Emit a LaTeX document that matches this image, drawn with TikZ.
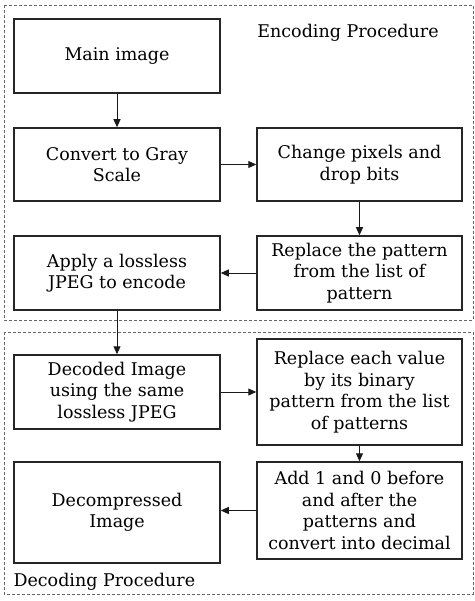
\documentclass[tikz,border=0pt]{standalone}
\usepackage{fontspec}
\setmainfont{DejaVu Serif}
\usetikzlibrary{arrows.meta}
\begin{document}
\begin{tikzpicture}[x=1pt,y=-1pt,
  every node/.style={font=\fontsize{17.5}{21.5}\selectfont, text=black},
  stepbox/.style={draw=black!85, line width=1.5pt, inner sep=0pt, align=center},
  frame/.style={draw=black!60, line width=0.8pt, dash pattern=on 3pt off 2pt},
  conn/.style={draw=black!90, line width=1pt, -{Triangle[length=8pt,width=7pt]}}]
\useasboundingbox (0,0) rectangle (474,601);
\draw[frame] (4,5) rectangle (473,320);
\draw[frame] (4,332) rectangle (473,594);
\node (enc) at (348,33) {Encoding Procedure};
\node[anchor=west] (decl) at (10,582) {Decoding Procedure};
\node[stepbox, minimum width=206pt, minimum height=74pt] (main) at (117,56) {Main image};
\node[stepbox, minimum width=206pt, minimum height=73pt] (gray) at (117,164.5) {Convert to Gray\\Scale};
\node[stepbox, minimum width=205pt, minimum height=73pt] (chg) at (359.5,164.5) {Change pixels and\\drop bits};
\node[stepbox, minimum width=205pt, minimum height=74pt] (rep) at (359.5,273) {Replace the pattern\\from the list of\\pattern};
\node[stepbox, minimum width=206pt, minimum height=74pt] (app) at (117,273) {Apply a lossless\\JPEG to encode};
\node[stepbox, minimum width=206pt, minimum height=74pt] (dcd) at (117,392) {Decoded Image\\using the same\\lossless JPEG};
\node[stepbox, minimum width=205pt, minimum height=106pt] (rev) at (359.5,392) {Replace each value\\by its binary\\pattern from the list\\of patterns};
\node[stepbox, minimum width=205pt, minimum height=97pt] (add) at (359.5,510.5) {Add 1 and 0 before\\and after the\\patterns and\\convert into decimal};
\node[stepbox, minimum width=206pt, minimum height=101pt] (dec) at (117,512.5) {Decompressed\\Image};
\draw[conn] (main) -- (gray);
\draw[conn] (gray) -- (chg);
\draw[conn] (chg) -- (rep);
\draw[conn] (rep) -- (app);
\draw[conn] (app) -- (dcd);
\draw[conn] (dcd) -- (rev);
\draw[conn] (rev) -- (add);
\draw[conn] (add.west) -- (add.west -| dec.east);
\end{tikzpicture}
\end{document}
